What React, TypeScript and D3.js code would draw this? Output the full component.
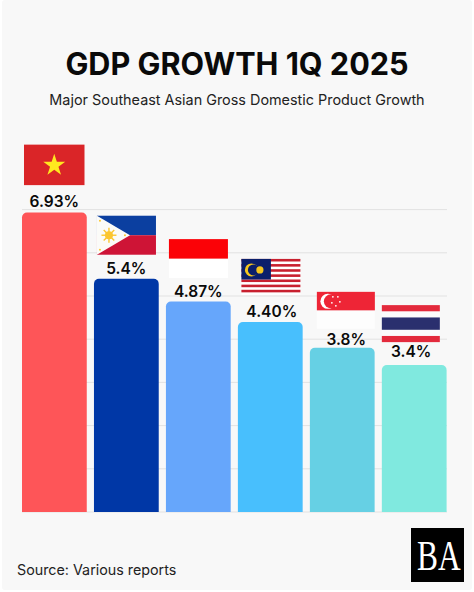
import React from 'react';
import * as d3 from 'd3';

const WIDTH = 474;
const HEIGHT = 592;

const countries = ['Vietnam', 'Philippines', 'Indonesia', 'Malaysia', 'Singapore', 'Thailand'];
const growth = [6.93, 5.4, 4.87, 4.4, 3.8, 3.4];
const labels = ['6.93%', '5.4%', '4.87%', '4.40%', '3.8%', '3.4%'];
const barColors = ['#FE5558', '#0037A6', '#66A6FB', '#48BFFD', '#66D0E4', '#80E9DF'];
const gridTicks = [0, 1, 2, 3, 4, 5, 6, 7];

// hand placed, flags and labels don't sit on a fixed offset in the reference
const flagBox = [
  { dx: 2, gap: 27.5, w: 60.5, h: 40.5 },
  { dx: 3, gap: 24, w: 59, h: 39 },
  { dx: 3, gap: 23.5, w: 59, h: 39 },
  { dx: 3.5, gap: 27, w: 59, h: 36 },
  { dx: 7, gap: 19, w: 58, h: 37 },
  { dx: 0, gap: 23, w: 58, h: 37 },
];
const labelDx = [0, 0, 0, 1.5, 4, -3];
const labelGap = [5.5, 4.5, 4.5, 5, 3, 8];

const x = d3.scaleBand<string>().domain(countries).range([22, 446.6]).paddingInner(0.1).paddingOuter(0).align(0);
const y = d3.scaleLinear().domain([0, 7]).range([512, 209.6]);

const topRounded = (x0: number, y0: number, w: number, h: number, r: number) => {
  const p = d3.path();
  p.moveTo(x0, y0 + h);
  p.lineTo(x0, y0 + r);
  p.arcTo(x0, y0, x0 + r, y0, r);
  p.lineTo(x0 + w - r, y0);
  p.arcTo(x0 + w, y0, x0 + w, y0 + r, r);
  p.lineTo(x0 + w, y0 + h);
  p.closePath();
  return p.toString();
};

const star = (size: number) => d3.symbol(d3.symbolStar, size)() ?? '';

const Vietnam = ({ w, h }: { w: number; h: number }) => (
  <g>
    <rect width={w} height={h} fill="#DA2528" />
    <path d={star(150)} transform={`translate(${w / 2},${h / 2 + 0.5})`} fill="#FFE81F" />
  </g>
);

const Philippines = ({ w, h }: { w: number; h: number }) => (
  <g>
    <rect width={w} height={h / 2} fill="#0B3FA0" />
    <rect y={h / 2} width={w} height={h / 2} fill="#CE1436" />
    <path d={`M0,0L${w * 0.56},${h / 2}L0,${h}Z`} fill="#FBFBF8" />
    {d3.range(8).map((i) => (
      <line
        key={i}
        x1={12}
        y1={h / 2}
        x2={12 + 7.5 * Math.cos((i * Math.PI) / 4)}
        y2={h / 2 + 7.5 * Math.sin((i * Math.PI) / 4)}
        stroke="#FBC62F"
        strokeWidth={1.4}
      />
    ))}
    <circle cx={12} cy={h / 2} r={4} fill="#FBC62F" />
    <circle cx={3} cy={5} r={1} fill="#FBC62F" />
    <circle cx={3} cy={h - 5} r={1} fill="#FBC62F" />
    <circle cx={28} cy={h / 2} r={1} fill="#FBC62F" />
  </g>
);

const Indonesia = ({ w, h }: { w: number; h: number }) => (
  <g>
    <rect y={h / 2} width={w} height={h / 2} fill="#FFFFFF" />
    <rect width={w} height={h / 2} fill="#FB0207" />
  </g>
);

const Malaysia = ({ w, h }: { w: number; h: number }) => {
  const sh = h / 14;
  return (
    <g>
      <rect width={w} height={h} fill="#FFFFFF" />
      {d3.range(0, 14, 2).map((i) => (
        <rect key={i} y={i * sh} width={w} height={sh} fill="#C8202F" />
      ))}
      <rect width={w / 2} height={sh * 8} fill="#0B1F6B" />
      <circle cx={10} cy={11} r={6.5} fill="#F5C61E" />
      <circle cx={12} cy={11} r={5.5} fill="#0B1F6B" />
      <circle cx={18.5} cy={11} r={3.6} fill="#F5C61E" />
    </g>
  );
};

const Singapore = ({ w, h }: { w: number; h: number }) => (
  <g>
    <rect y={h / 2} width={w} height={h / 2} fill="#FDFDFD" />
    <rect width={w} height={h / 2} fill="#EE2536" />
    <circle cx={11} cy={9.5} r={7.5} fill="#FFFFFF" />
    <circle cx={14} cy={9.5} r={7} fill="#EE2536" />
    {[[16, 5], [21, 5], [23, 10], [19, 14], [15, 11]].map(([cx, cy], i) => (
      <circle key={i} cx={cx} cy={cy} r={0.9} fill="#FFFFFF" />
    ))}
  </g>
);

const Thailand = ({ w, h }: { w: number; h: number }) => (
  <g>
    <rect width={w} height={h} fill="#FBFBFB" />
    <rect width={w} height={h / 6} fill="#E32A3C" />
    <rect y={(h * 2) / 6} width={w} height={(h * 2) / 6} fill="#2A2F6E" />
    <rect y={(h * 5) / 6} width={w} height={h / 6} fill="#E32A3C" />
  </g>
);

const flags = [Vietnam, Philippines, Indonesia, Malaysia, Singapore, Thailand];

export default function App() {
  return (
    <svg
      width={WIDTH}
      height={HEIGHT}
      viewBox={`0 0 ${WIDTH} ${HEIGHT}`}
      style={{ position: 'absolute', left: 0, top: 0, display: 'block' }}
    >
      <rect width={WIDTH} height={HEIGHT} fill="#FFFFFF" />
      <rect x={2} y={0} width={WIDTH - 4} height={HEIGHT - 2} rx={3} fill="#F8F8F8" />

      <text
        x={237}
        y={75}
        textAnchor="middle"
        fontFamily="Inter, sans-serif"
        fontWeight={700}
        fontSize={30.6}
        fill="#0A0A0A"
      >
        GDP GROWTH 1Q 2025
      </text>
      <text x={237} y={105} textAnchor="middle" fontFamily="Inter, sans-serif" fontSize={14.4} fill="#222222">
        Major Southeast Asian Gross Domestic Product Growth
      </text>

      {gridTicks.map((t) => (
        <line key={t} x1={22} x2={447} y1={y(t)} y2={y(t)} stroke="#E2E2E2" strokeWidth={1} />
      ))}

      {countries.map((c, i) => {
        const bx = x(c) ?? 0;
        const top = y(growth[i]);
        return (
          <path key={c} d={topRounded(bx, top, x.bandwidth(), y(0) - top, 5)} fill={barColors[i]} />
        );
      })}

      {countries.map((c, i) => {
        const Flag = flags[i];
        const box = flagBox[i];
        const top = y(growth[i]);
        return (
          <g key={c} transform={`translate(${(x(c) ?? 0) + box.dx},${top - box.gap - box.h})`}>
            <Flag w={box.w} h={box.h} />
          </g>
        );
      })}

      {countries.map((c, i) => (
        <text
          key={c}
          x={(x(c) ?? 0) + x.bandwidth() / 2 + labelDx[i]}
          y={y(growth[i]) - labelGap[i]}
          textAnchor="middle"
          fontFamily="Inter, sans-serif"
          fontWeight={600}
          fontSize={15.5}
          fill="#0A0A0A"
        >
          {labels[i]}
        </text>
      ))}

      <text x={17} y={575} fontFamily="Inter, sans-serif" fontSize={14.3} fill="#222222">
        Source: Various reports
      </text>

      <rect x={411} y={528} width={53} height={54} fill="#000000" />
      <text
        transform="translate(417,570) scale(0.73,1)"
        fontFamily="'Liberation Serif', serif"
        fontSize={43}
        fill="#FFFFFF"
      >
        BA
      </text>
    </svg>
  );
}
